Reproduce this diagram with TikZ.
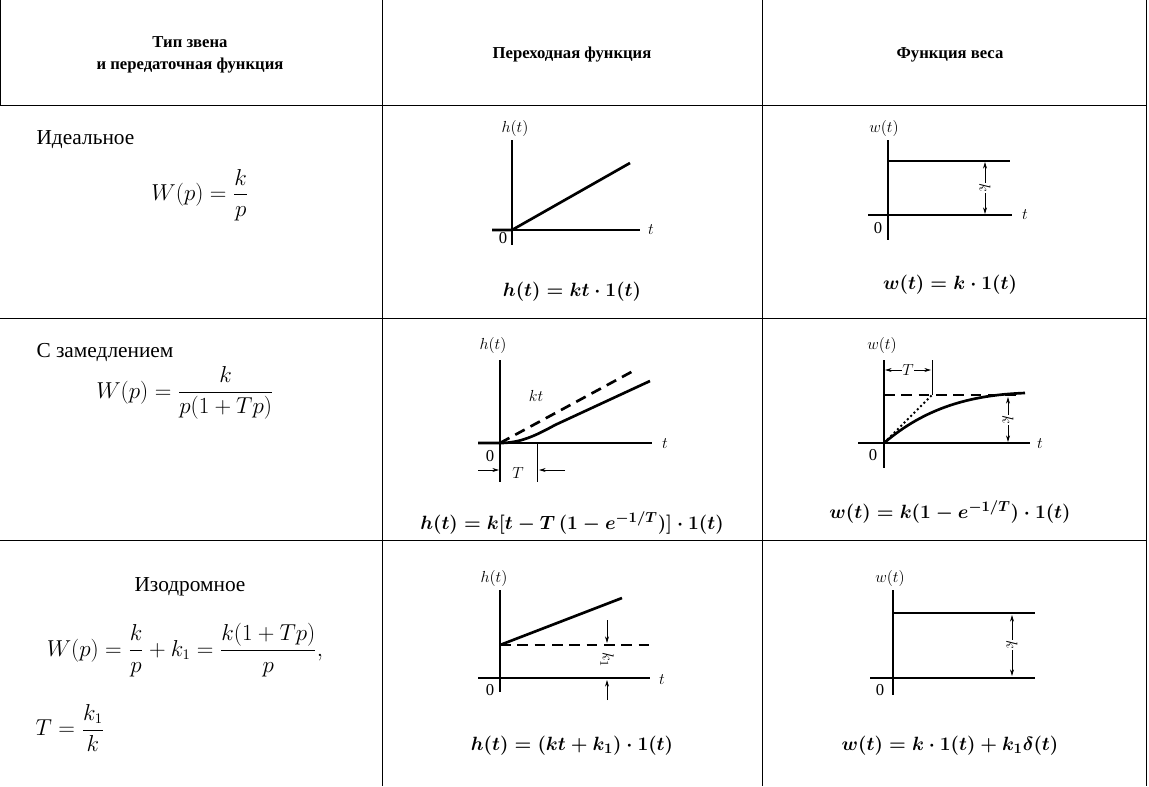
\documentclass[tikz,border=0pt]{standalone}
\usepackage{amsmath}
\usepackage{fontspec}
\setmainfont{Liberation Serif}
\usetikzlibrary{arrows.meta}
\tikzset{every picture/.style={line width=0.75pt}}
\tikzset{
  hdr/.style={inner sep=0.75pt,align=center,font=\fontsize{12.5}{17}\selectfont\bfseries},
  txt/.style={inner sep=0.75pt,font=\fontsize{16}{19}\selectfont},
  frm/.style={inner sep=0.75pt,font=\fontsize{15.5}{18}\selectfont\boldmath},
  lbl/.style={inner sep=0.75pt,font=\fontsize{12.5}{14}\selectfont},
  ax/.style={line width=0.9pt},
  curve/.style={line width=2pt},
  dashes/.style={line width=2pt,dash pattern=on 8pt off 5pt},
  dim/.style={line width=0.6pt,-{Stealth[length=5pt,width=3pt]}},
}
\begin{document}
\begin{tikzpicture}[x=0.75pt,y=0.75pt,yscale=-1,xscale=1]
\useasboundingbox (0,0) rectangle (1149,786);

%Table lines
\draw (382,0) -- (382,786) ;
\draw (762,0) -- (762,786) ;
\draw (1146,0) -- (1146,786) ;
\draw (0,0) -- (0,105) ;
\draw (0,105) -- (1146,105) ;
\draw (0,318) -- (1146,318) ;
\draw (0,540) -- (1146,540) ;

% Header
\draw (190,55) node [hdr] (hType) {Тип звена\\и передаточная функция};
\draw (572,55) node [hdr] (hStep) {Переходная функция};
\draw (950,55) node [hdr] (hWeight) {Функция веса};

% Row 1: ideal
\draw (35,140) node [anchor=west][txt] (nIdeal) {Идеальное};
\draw (200,195) node [txt] (wIdeal) {$W(p)=\dfrac{k}{p}$};
% h(t)
\draw [ax] (512,140) -- (512,245) ;
\draw [ax] (492,230) -- (640,230) ;
\draw [curve] (492,230) -- (512,230) -- (630,163) ;
\draw (515,128) node [lbl] (hA) {$h(t)$};
\draw (651,230) node [lbl] (tA) {$t$};
\draw (503,238) node [lbl] (zA) {0};
\draw (572,292) node [frm] (fA) {$h(t)=kt\cdot\mathbf{1}(t)$};
% w(t)
\draw [ax] (888,140) -- (888,240) ;
\draw [ax] (868,215) -- (1012,215) ;
\draw [curve] (888,161) -- (1010,161) ;
\draw [dim] (985,188) -- (985,162) ;
\draw [dim] (985,188) -- (985,214) ;
\draw (985,188) node [lbl,fill=white,rotate=-90,inner sep=0.3pt] (kA) {$k$};
\draw (884,128) node [lbl] (wA) {$w(t)$};
\draw (1025,215) node [lbl] (tB) {$t$};
\draw (878,228) node [lbl] (zB) {0};
\draw (950,285) node [frm] (fB) {$w(t)=k\cdot\mathbf{1}(t)$};

% Row 2: with delay
\draw (35,352) node [anchor=west][txt] (nDelay) {С замедлением};
\draw (185,393) node [txt] (wDelay) {$W(p)=\dfrac{k}{p(1+Tp)}$};
% h(t)
\draw [ax] (500,360) -- (500,482) ;
\draw [ax] (478,443) -- (652,443) ;
\draw [dashes] (500,443) -- (635,370) ;
\draw [curve] (478,443) -- (500,443) .. controls (520,443) and (535,436) .. (555,425) -- (650,381) ;
\draw (537,443) -- (537,482) ;
\draw [dim] (478,470) -- (499,470) ;
\draw [dim] (565,470) -- (539,470) ;
\draw (518,473) node [lbl] (TA) {$T$};
\draw (536,396) node [lbl] (ktA) {$kt$};
\draw (493,345) node [lbl] (hB) {$h(t)$};
\draw (665,444) node [lbl] (tC) {$t$};
\draw (490,456) node [lbl] (zC) {0};
\draw (572,523) node [frm] (fC) {$h(t)=k[t-T\,(1-e^{-1/T})]\cdot\mathbf{1}(t)$};
% w(t)
\draw [ax] (884,360) -- (884,468) ;
\draw [ax] (858,443) -- (1030,443) ;
\draw (932,360) -- (932,395) ;
\draw [dashes] (884,395) -- (1020,395) ;
\draw [dotted,line width=1.5pt] (884,443) -- (932,395) ;
\draw [curve] (884,443) .. controls (925,408) and (970,395) .. (1025,393) ;
\draw [dim] (908,370) -- (885,370) ;
\draw [dim] (908,370) -- (931,370) ;
\draw (908,370) node [lbl,fill=white,inner sep=0.3pt] (TB) {$T$};
\draw [dim] (1008,420) -- (1008,397) ;
\draw [dim] (1008,420) -- (1008,442) ;
\draw (1008,420) node [lbl,fill=white,rotate=-90,inner sep=0.3pt] (kB) {$k$};
\draw (882,345) node [lbl] (wB) {$w(t)$};
\draw (1040,444) node [lbl] (tD) {$t$};
\draw (873,455) node [lbl] (zD) {0};
\draw (950,512) node [frm] (fD) {$w(t)=k(1-e^{-1/T})\cdot\mathbf{1}(t)$};

% Row 3: isodromic
\draw (190,587) node [txt] (nIso) {Изодромное};
\draw (185,650) node [txt] (wIso) {$W(p)=\dfrac{k}{p}+k_1=\dfrac{k(1+Tp)}{p},$};
\draw (70,728) node [txt] (TIso) {$T=\dfrac{k_1}{k}$};
% h(t)
\draw [ax] (500,590) -- (500,692) ;
\draw [ax] (478,678) -- (650,678) ;
\draw [curve] (500,645) -- (622,598) ;
\draw [dashes] (500,645) -- (650,645) ;
\draw [dim] (607,620) -- (607,643) ;
\draw [dim] (607,700) -- (607,680) ;
\draw (607,660) node [lbl,rotate=-90] (kC) {$k_1$};
\draw (494,578) node [lbl] (hC) {$h(t)$};
\draw (662,680) node [lbl] (tE) {$t$};
\draw (490,690) node [lbl] (zE) {0};
\draw (572,746) node [frm] (fE) {$h(t)=(kt+k_1)\cdot\mathbf{1}(t)$};
% w(t)
\draw [ax] (893,590) -- (893,695) ;
\draw [ax] (870,678) -- (1035,678) ;
\draw [curve] (893,613) -- (1035,613) ;
\draw [dim] (1012,645) -- (1012,615) ;
\draw [dim] (1012,645) -- (1012,676) ;
\draw (1012,645) node [lbl,fill=white,rotate=-90,inner sep=0.3pt] (kD) {$k$};
\draw (890,578) node [lbl] (wC) {$w(t)$};
\draw (880,690) node [lbl] (zF) {0};
\draw (950,746) node [frm] (fF) {$w(t)=k\cdot\mathbf{1}(t)+k_1\delta(t)$};

\end{tikzpicture}
\end{document}
